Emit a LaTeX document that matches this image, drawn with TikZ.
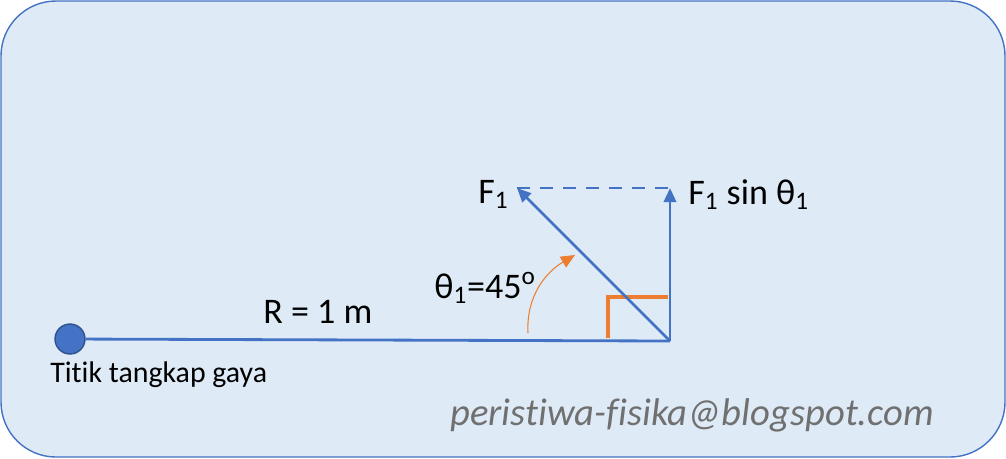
\documentclass[tikz,border=0pt]{standalone}
\usepackage{fontspec}
\setmainfont{Carlito}[Ligatures=NoCommon, RawFeature=-liga, RawFeature=-calt, RawFeature=-dlig]
\usetikzlibrary{arrows.meta}

\begin{document}
\begin{tikzpicture}[x=0.02cm, y=-0.02cm]
    % Colours of the sketch
    \definecolor{panelblue}{RGB}{68,114,196}
    \definecolor{panelfill}{RGB}{222,235,247}
    \definecolor{dotblue}{RGB}{47,82,143}
    \definecolor{markorange}{RGB}{237,125,49}
    \definecolor{stampgray}{RGB}{112,112,112}

    \tikzset{
        vec/.style={panelblue, line width=1.6pt, -{Triangle[length=8pt, width=7pt]}},
        label/.style={anchor=base west, inner sep=0pt, font=\fontsize{20.5}{24}\selectfont}
    }

    \useasboundingbox (0,0) rectangle (1006,458);

    % Rounded panel behind everything
    \draw[panelblue, fill=panelfill, line width=0.8pt, rounded corners=1.1cm] (1,1) rectangle (1005,457);

    % Points of the diagram
    \coordinate (O) at (670,341);
    \coordinate (F) at (517,188);
    \coordinate (S) at (670,188);

    % Pivot point and the arm
    \node[circle, fill=panelblue, draw=dotblue, line width=0.8pt, minimum size=0.6cm, inner sep=0pt] (P) at (70,339) {};
    \draw[panelblue, line width=1.6pt] (P) -- (O);

    % Right angle mark
    \draw[markorange, line width=2.8pt] (608,338) |- (668,297);

    % Force and its component
    \draw[vec] (O) -- (F);
    \draw[vec] (O) -- (S);
    \draw[panelblue, line width=1.6pt, dash pattern=on 0.26cm off 0.2cm] (F) -- (S);

    % Angle arrow
    \draw[markorange, line width=0.6pt, -{Triangle[length=8pt, width=7pt]}] (528,333) .. controls (526,296) and (546,272) .. (575,255);

    % Labels
    \node[label] (lF) at (478,203) {F\textsubscript{1}};
    \node[label] (lS) at (688,204) {F\textsubscript{1} sin θ\textsubscript{1}};
    \node[label] (lT) at (434,298) {θ\textsubscript{1}=45\textsuperscript{o}};
    \node[label] (lR) at (263,323) {R = 1 m};
    \node[anchor=base west, inner sep=0pt, font=\fontsize{17}{20}\selectfont] (lP) at (50,382) {Titik tangkap gaya};

    % Blog stamp
    \node[anchor=base west, inner sep=0pt, text=stampgray, font=\fontsize{22}{26}\selectfont\itshape] (stamp) at (450,425) {peristiwa-fisika@blogspot.com};

\end{tikzpicture}
\end{document}
